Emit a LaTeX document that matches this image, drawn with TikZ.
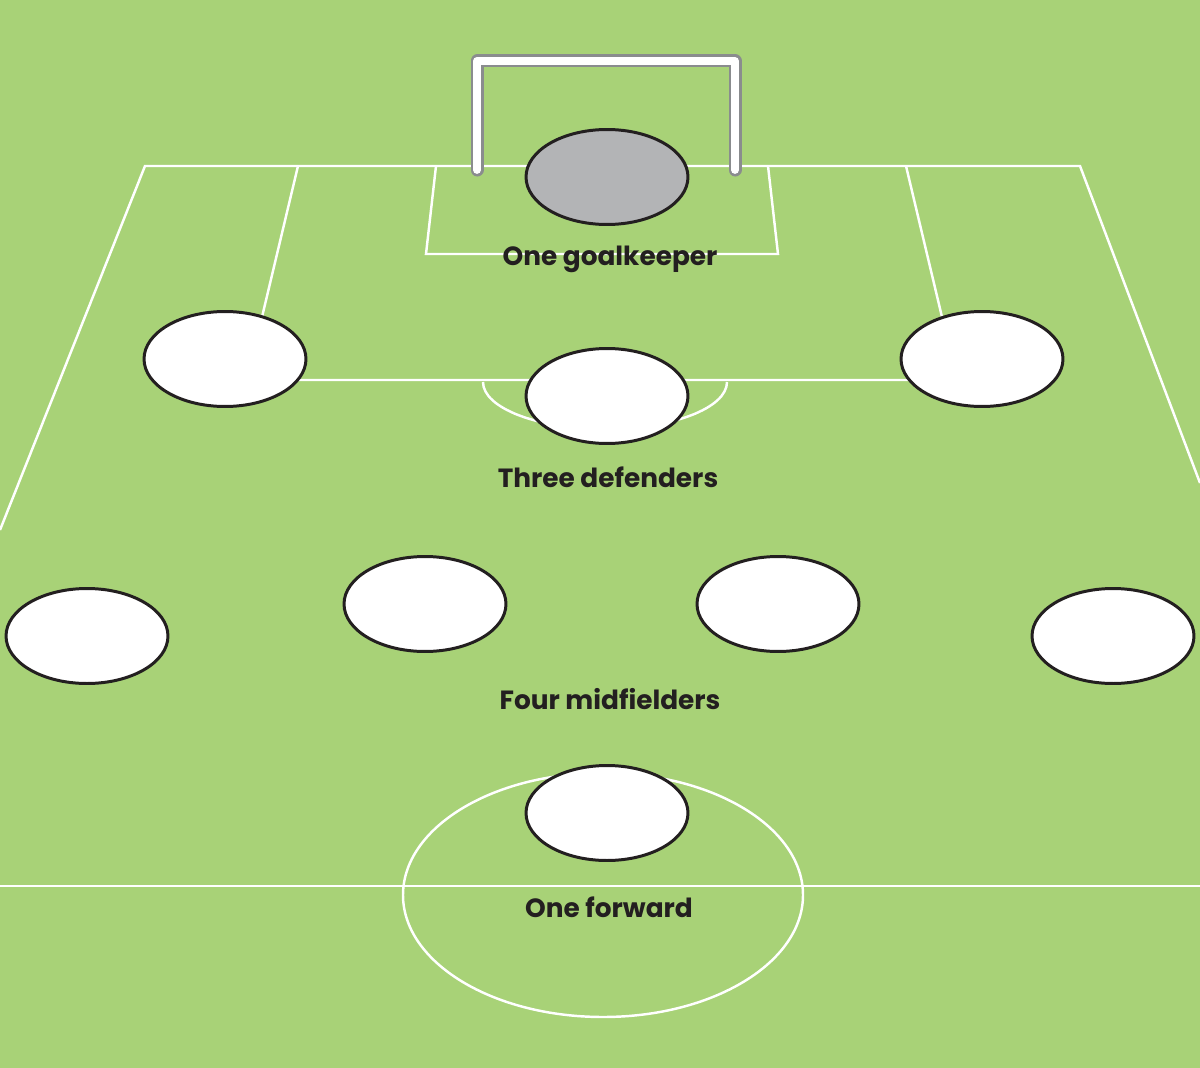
\documentclass[tikz,border=0pt]{standalone}
\usepackage{fontspec}
\setmainfont{Poppins}
\usetikzlibrary{shapes.geometric}
\definecolor{pitch}{HTML}{A8D277}
\definecolor{gkgray}{HTML}{B3B4B6}
\definecolor{postgray}{HTML}{8A8C8E}
\definecolor{ink}{HTML}{231F20}
\tikzset{
  line/.style={draw=white, line width=1.4pt},
  player/.style={ellipse, draw=ink, line width=1.7pt, fill=white, minimum width=3.24cm, minimum height=1.9cm, inner sep=0pt},
  keeper/.style={player, fill=gkgray},
  lbl/.style={anchor=base, text=ink, font=\bfseries\fontsize{15}{17}\selectfont, inner sep=0pt}
}
\begin{document}
\begin{tikzpicture}[x=0.02cm, y=-0.02cm]
\fill[pitch] (0,0) rectangle (1200,1068);
\useasboundingbox (0,0) rectangle (1200,1068);
% field markings
\coordinate (ol) at (145,166);
\coordinate (or) at (1080,166);
\draw[line] (0,530) -- (ol) -- (or) -- (1200,483);
\draw[line] (298,166) -- (247,380) -- (957,380) -- (906,166);
\draw[line] (436,166) -- (426,254) -- (778,254) -- (768,166);
\draw[line] (483,382) arc[start angle=180, end angle=0, x radius=122, y radius=47];
\draw[line] (0,886) -- (1200,886);
\draw[line] (603,895) ellipse[x radius=200, y radius=122];
% goal
\draw[postgray, line width=7.4pt, line cap=round, line join=round] (477,170) -- (477,61) -- (735,61) -- (735,170);
\draw[white, line width=4.4pt, line cap=round, line join=round] (477,170) -- (477,61) -- (735,61) -- (735,170);
% players
\node[keeper] (gk) at (607,177) {};
\node[player] (d1) at (225,359) {};
\node[player] (d2) at (607,396) {};
\node[player] (d3) at (982,359) {};
\node[player] (m1) at (87,636) {};
\node[player] (m2) at (425,604) {};
\node[player] (m3) at (778,604) {};
\node[player] (m4) at (1113,636) {};
\node[player] (f1) at (607,813) {};
% labels
\node[lbl] (tgk) at (610,265) {One goalkeeper};
\node[lbl] (tdf) at (608,487) {Three defenders};
\node[lbl] (tmf) at (610,709) {Four midfielders};
\node[lbl] (tfw) at (609,917) {One forward};
\end{tikzpicture}
\end{document}
